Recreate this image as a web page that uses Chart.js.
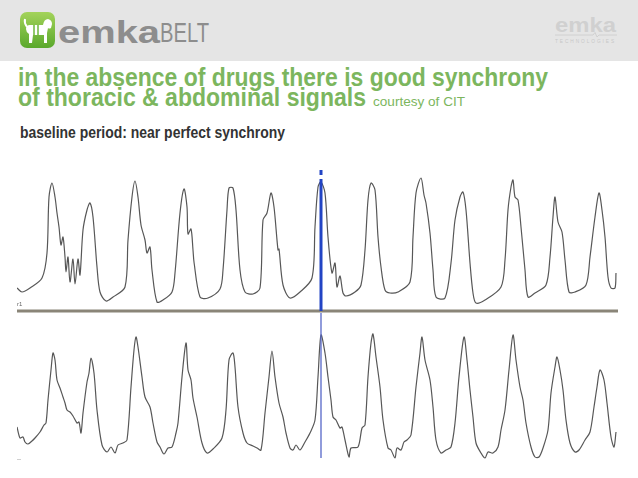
<!DOCTYPE html>
<html>
<head>
<meta charset="utf-8">
<script src="https://cdn.jsdelivr.net/npm/chart.js@4.4.1/dist/chart.umd.min.js"></script>
<style>
  html, body { margin: 0; padding: 0; background: #fff; }
  body { width: 638px; height: 478px; position: relative; overflow: hidden; font-family: "Liberation Sans", Arial, sans-serif; }
  .abs { position: absolute; white-space: nowrap; transform-origin: 0 0; }
  #header { position: absolute; left: 0; top: 0; width: 638px; height: 61px; background: #e5e5e5; }
  .title { font-family: "Liberation Sans Narrow", "Liberation Sans", Arial, sans-serif; font-weight: bold; color: #7cb65e; }
  canvas { position: absolute; }
</style>
</head>
<body>
<div id="header"></div>
<svg class="abs" style="left:20px;top:12px" width="35" height="36" viewBox="0 0 35 36">
  <defs>
    <linearGradient id="g" x1="0" y1="0" x2="0" y2="1">
      <stop offset="0" stop-color="#a3d35a"/>
      <stop offset="1" stop-color="#5aa82c"/>
    </linearGradient>
  </defs>
  <rect x="0" y="0" width="35" height="36" rx="7" fill="url(#g)"/>
  <path d="M6 17 Q6 13 10 13 L23 13 Q24 7 28 7 Q32 8 32 12 L31 16 Q29 17 28 16 L27 21 L27 31 L24 31 L24 23 L13 23 L12 31 L9 31 L9 22 Q6 20 6 17 Z" fill="#fff"/>
  <path d="M7 15 Q4 11 5 7" stroke="#fff" stroke-width="2" fill="none"/>
  <path d="M14 13 L14 23 M18 13 L18 23" stroke="#6cb83a" stroke-width="1.5"/>
</svg>
<div class="abs fit" data-w="102" style="left:58px;top:16.8px;font-size:31px;line-height:31px;font-weight:bold;color:#8d8d8d;">emka</div>
<div class="abs fit" data-w="49" style="left:160px;top:19.8px;font-size:27px;line-height:27px;color:#8d8d8d;">BELT</div>
<div class="abs fit" data-w="61" style="left:555px;top:15px;font-size:20px;line-height:20px;font-weight:bold;color:#d0d0d0;">emka</div>
<svg class="abs" style="left:555px;top:32px" width="62" height="6" viewBox="0 0 62 6">
  <path d="M0 3 L38 3 L40 0.5 L42 5 L44 3 L62 3" stroke="#d0d0d0" stroke-width="1" fill="none"/>
</svg>
<div class="abs fit" data-w="61" style="left:555px;top:39px;font-size:5px;line-height:5px;letter-spacing:2px;color:#c8c8c8;">TECHNOLOGIES</div>

<div class="abs title fit" data-w="530" style="left:18px;top:64.8px;font-size:25px;line-height:25px;">in the absence of drugs there is good synchrony</div>
<div class="abs title fit" data-w="348" style="left:18px;top:84.8px;font-size:25px;line-height:25px;">of thoracic &amp; abdominal signals</div>
<div class="abs fit" data-w="92" style="left:373px;top:94.6px;font-size:13.5px;line-height:13.5px;color:#7cb65e;font-family:'Liberation Sans Narrow','Liberation Sans',Arial,sans-serif;">courtesy of CIT</div>
<div class="abs fit" data-w="265" style="left:20px;top:124.5px;font-size:16px;line-height:16px;font-weight:bold;color:#333;font-family:'Liberation Sans Narrow','Liberation Sans',Arial,sans-serif;">baseline period: near perfect synchrony</div>

<canvas id="thoracic" width="601" height="150" style="left:17px;top:163px;"></canvas>
<canvas id="abdominal" width="601" height="150" style="left:17px;top:313px;"></canvas>
<div class="abs" style="left:17px;top:301px;font-size:6px;line-height:6px;color:#666;">r1</div>
<div class="abs" style="left:17px;top:456px;font-size:6px;line-height:6px;color:#888;">--</div>

<script>
// time axis (sample units) and signal amplitudes
const thoracicTime = [0, 5, 13, 25, 30, 32, 35, 38, 40, 42, 44, 46, 48, 49, 51, 53, 56, 58, 61, 63, 66, 70, 73, 76, 80, 83, 89, 96, 108, 111, 115, 118, 121, 124, 128, 130, 133, 135, 140, 146, 155, 158, 163, 167, 170, 171, 174, 176, 177, 183, 191, 203, 206, 210, 212, 216, 219, 223, 228, 236, 243, 246, 250, 254, 257, 261, 262, 266, 273, 283, 295, 298, 301, 304, 308, 311, 315, 318, 320, 323, 326, 329, 338, 344, 348, 351, 354, 358, 361, 364, 368, 373, 381, 393, 396, 399, 404, 407, 409, 413, 416, 419, 428, 434, 438, 443, 446, 449, 453, 456, 459, 468, 484, 488, 491, 494, 496, 498, 501, 504, 508, 511, 518, 529, 533, 536, 538, 541, 545, 548, 552, 558, 569, 573, 578, 582, 585, 588, 591, 594, 598, 599];
const thoracicValues = [23, 19, 23, 33, 58, 114, 128, 114, 98, 84, 66, 74, 54, 39, 54, 29, 52, 27, 52, 36, 81, 101, 108, 94, 44, 19, 10, 14, 24, 71, 114, 130, 114, 86, 71, 58, 64, 41, 9, 11, 19, 38, 98, 122, 104, 77, 82, 61, 49, 14, 13, 22, 41, 101, 123, 123, 101, 41, 19, 17, 23, 91, 98, 118, 104, 61, 62, 26, 13, 19, 33, 84, 124, 129, 118, 74, 38, 48, 24, 35, 18, 15, 19, 26, 61, 111, 128, 121, 74, 44, 21, 18, 19, 29, 74, 118, 133, 116, 108, 78, 41, 14, 13, 48, 91, 114, 119, 101, 48, 18, 8, 11, 24, 51, 101, 124, 131, 114, 111, 84, 41, 14, 18, 26, 54, 94, 114, 89, 79, 51, 19, 19, 26, 54, 94, 118, 101, 74, 34, 23, 23, 38];

const abdominalTime = [0, 3, 6, 8, 11, 15, 18, 23, 27, 29, 31, 34, 36, 38, 40, 43, 46, 48, 50, 53, 56, 60, 62, 64, 66, 70, 72, 74, 77, 80, 85, 90, 94, 98, 101, 106, 110, 114, 117, 119, 121, 125, 128, 133, 136, 140, 143, 147, 151, 155, 159, 161, 165, 169, 171, 174, 176, 180, 185, 190, 196, 205, 209, 212, 216, 218, 221, 226, 230, 236, 240, 244, 248, 252, 255, 258, 262, 266, 269, 273, 276, 279, 283, 288, 293, 298, 301, 304, 308, 311, 314, 316, 319, 323, 325, 328, 332, 334, 341, 345, 348, 351, 354, 356, 359, 363, 366, 371, 374, 378, 380, 384, 387, 390, 394, 399, 403, 405, 408, 413, 416, 419, 424, 429, 434, 438, 442, 447, 450, 453, 456, 459, 464, 468, 471, 476, 481, 484, 488, 492, 496, 499, 503, 506, 509, 514, 518, 522, 526, 531, 534, 538, 540, 543, 546, 549, 553, 558, 562, 568, 573, 577, 580, 583, 587, 590, 594, 597, 599];
const abdominalValues = [35, 24, 25, 20, 18, 21, 24, 30, 37, 39, 62, 92, 109, 102, 82, 74, 65, 59, 52, 50, 46, 39, 40, 29, 49, 80, 89, 104, 89, 52, 17, 10, 15, 9, 17, 19, 22, 75, 112, 125, 115, 85, 65, 55, 39, 20, 15, 8, 14, 15, 29, 39, 85, 119, 92, 82, 64, 45, 19, 9, 13, 24, 52, 102, 109, 95, 55, 29, 19, 16, 14, 12, 49, 85, 111, 85, 59, 45, 29, 14, 12, 17, 12, 20, 29, 42, 85, 127, 109, 85, 62, 45, 42, 34, 35, 22, 5, 14, 15, 34, 37, 85, 119, 128, 105, 75, 42, 14, 12, 4, 14, 12, 20, 22, 27, 75, 109, 125, 102, 82, 55, 22, 9, 12, 15, 39, 85, 125, 102, 72, 45, 19, 9, 4, 10, 9, 15, 32, 52, 92, 127, 102, 75, 62, 39, 15, 5, 5, 14, 32, 69, 95, 105, 92, 72, 42, 19, 10, 12, 22, 30, 55, 75, 92, 82, 59, 25, 15, 30];

// cursor position (same time units)
const cursorTime = 304;

function toPoints(t, v) {
  return t.map((x, i) => ({ x: x, y: v[i] }));
}

const baselinePlugin = {
  id: "baseline",
  afterDatasetsDraw(chart, args, opts) {
    const { ctx, chartArea, scales } = chart;
    ctx.save();
    if (opts.axis) {
      const y = scales.y.getPixelForValue(0);
      ctx.strokeStyle = "#8a8578";
      ctx.lineWidth = 3;
      ctx.beginPath();
      ctx.moveTo(chartArea.left, y);
      ctx.lineTo(chartArea.right, y);
      ctx.stroke();
    }
    const cx = scales.x.getPixelForValue(cursorTime);
    ctx.strokeStyle = opts.cursorColor;
    ctx.lineWidth = opts.cursorWidth;
    ctx.beginPath();
    ctx.moveTo(cx, scales.y.getPixelForValue(opts.cursorTop));
    ctx.lineTo(cx, scales.y.getPixelForValue(opts.cursorBottom));
    ctx.stroke();
    if (opts.dash) {
      ctx.beginPath();
      ctx.moveTo(cx, scales.y.getPixelForValue(opts.dash[0]));
      ctx.lineTo(cx, scales.y.getPixelForValue(opts.dash[1]));
      ctx.stroke();
    }
    ctx.restore();
  }
};

function traceChart(id, t, v, yMin, yMax, markOpts) {
  return new Chart(document.getElementById(id), {
    type: "line",
    data: {
      datasets: [{
        data: toPoints(t, v),
        borderColor: "#575757",
        borderWidth: 1.2,
        pointRadius: 0,
        tension: 0.3,
        fill: false,
      }],
    },
    options: {
      responsive: false,
      animation: false,
      parsing: false,
      layout: { padding: 0 },
      scales: {
        x: { type: "linear", min: 0, max: 601, display: false },
        y: { min: yMin, max: yMax, display: false },
      },
      plugins: {
        legend: { display: false },
        tooltip: { enabled: false },
        baseline: markOpts,
      },
    },
    plugins: [baselinePlugin],
  });
}

traceChart("thoracic", thoracicTime, thoracicValues, -2, 148, {
  axis: true, cursorColor: "#2244c4", cursorWidth: 3, cursorTop: 132, cursorBottom: 0, dash: [141, 136],
});
traceChart("abdominal", abdominalTime, abdominalValues, -1, 149, {
  axis: false, cursorColor: "#5566c8", cursorWidth: 1.3, cursorTop: 149, cursorBottom: 4,
});

function fitText() {
  document.querySelectorAll(".fit").forEach(el => {
    el.style.transform = "none";
    const w = el.getBoundingClientRect().width;
    const target = parseFloat(el.dataset.w);
    if (w > 0) el.style.transform = "scaleX(" + (target / w) + ")";
  });
}
fitText();
if (document.fonts && document.fonts.ready) document.fonts.ready.then(fitText);
</script>
</body>
</html>
